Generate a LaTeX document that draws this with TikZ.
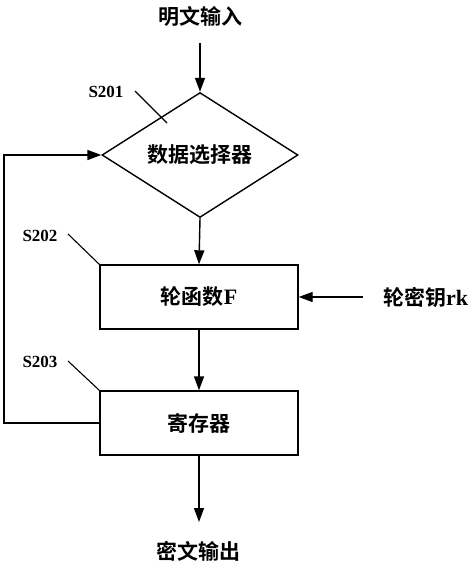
\documentclass[tikz,border=0pt]{standalone}
\usepackage{fontspec}
\setmainfont{Liberation Serif}
\newfontfamily\cjk{Noto Sans CJK SC Bold}
\usetikzlibrary{shapes.geometric,arrows.meta}
\begin{document}
\begin{tikzpicture}[x=1pt,y=-1pt,
  lw/.style={line width=1.4pt},
  flow/.style={lw,-{Triangle[length=14pt,width=10pt]}},
  boxn/.style={draw,lw,minimum width=198pt,minimum height=64pt,inner sep=0pt,font=\cjk\fontsize{21}{21}\selectfont},
  dia/.style={draw,lw,diamond,minimum width=196pt,minimum height=95pt,inner sep=0pt,font=\cjk\fontsize{21}{21}\selectfont},
  txt/.style={font=\cjk\fontsize{21}{21}\selectfont,inner sep=0pt},
  lab/.style={font=\bfseries\fontsize{17}{17}\selectfont,inner sep=0pt}]
\useasboundingbox (0,0) rectangle (474,562);
\node[txt] (in) at (200,16) {明文输入};
\coordinate (inend) at (200,43);
\node[dia] (sel) at (200,155) {数据选择器};
\node[boxn] (f) at (199,297) {轮函数{\rmfamily\bfseries\fontsize{22}{22}\selectfont F}};
\node[boxn] (reg) at (199,423) {寄存器};
\node[txt] (out) at (198,551) {密文输出};
\coordinate (outtop) at (198,522);
\node[txt,anchor=west] (key) at (383,297) {轮密钥{\rmfamily\bfseries\fontsize{22}{22}\selectfont rk}};
\coordinate (keystart) at (363,297);
\coordinate (fbx) at (4,423);
\coordinate (fby) at (4,155);
\draw[flow] (inend) -- (sel.north);
\draw[flow] (sel.south) -- (f.north);
\draw[flow] (f.south) -- (reg.north);
\draw[flow] (reg.south) -- (reg.south |- outtop);
\draw[flow] (keystart) -- (f.east);
\draw[flow] (reg.west) -- (fbx) -- (fby) -- (sel.west);
\node[lab] (s201) at (106,92) {S201};
\node[lab] (s202) at (40,236) {S202};
\node[lab] (s203) at (40,362) {S203};
\coordinate (l1) at (135,91);
\coordinate (l1e) at (167,123);
\coordinate (l2) at (68,234);
\coordinate (l3) at (68,361);
\draw[lw,line width=1.1pt] (l1) -- (l1e);
\draw[lw,line width=1.1pt] (l2) -- (f.north west);
\draw[lw,line width=1.1pt] (l3) -- (reg.north west);
\end{tikzpicture}
\end{document}
